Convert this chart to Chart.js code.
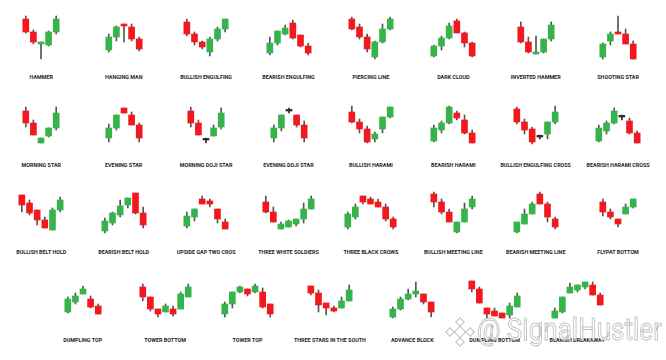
<!DOCTYPE html>
<html>
<head>
<meta charset="utf-8">
<script src="https://cdn.jsdelivr.net/npm/chart.js@4.4.0/dist/chart.umd.min.js"></script>
<style>
  html, body { margin: 0; padding: 0; background: #fff; }
  #board { position: relative; width: 666px; height: 360px; overflow: hidden; background: #fff; }
  #board canvas { position: absolute; }
  .label {
    position: absolute; width: 100px; text-align: center; white-space: nowrap;
    font-family: Roboto, "Noto Sans", sans-serif; font-weight: 700; font-size: 5.4px;
    line-height: 6px; color: #1e1e1e;
  }
  .watermark {
    position: absolute; left: 477px; top: 311px; white-space: nowrap;
    font-family: Roboto, "Noto Sans", sans-serif; font-size: 31px;
    transform: scaleX(0.84); transform-origin: left top;
    color: rgba(255, 255, 255, 0.82); -webkit-text-stroke: 1px rgba(140, 140, 140, 0.55);
  }
  .wm-logo { position: absolute; left: 445px; top: 317px; }
</style>
</head>
<body>
<div id="board">
  <svg class="wm-logo" width="30" height="30" viewBox="0 0 30 30">
    <g fill="rgba(255,255,255,0.82)" stroke="rgba(140,140,140,0.55)" stroke-width="1">
      <rect x="11" y="11" width="8" height="8" transform="rotate(45 15 15)"/>
      <rect x="12" y="2" width="6" height="6" transform="rotate(45 15 5)"/>
      <rect x="12" y="22" width="6" height="6" transform="rotate(45 15 25)"/>
      <rect x="2" y="12" width="6" height="6" transform="rotate(45 5 15)"/>
      <rect x="22" y="12" width="6" height="6" transform="rotate(45 25 15)"/>
    </g>
  </svg>
  <div class="watermark">@ SignalHustler</div>
</div>

<script>
// pattern names, in reading order (8 per row, last row has 7)
const patternNames = [
  'HAMMER', 'HANGING MAN', 'BULLISH ENGULFING', 'BEARISH ENGULFING',
  'PIERCING LINE', 'DARK CLOUD', 'INVERTED HAMMER', 'SHOOTING STAR',
  'MORNING STAR', 'EVENING STAR', 'MORNING DOJI STAR', 'EVENING DOJI STAR',
  'BULLISH HARAMI', 'BEARISH HARAMI', 'BULLISH ENGULFING CROSS', 'BEARISH HARAMI CROSS',
  'BULLISH BELT HOLD', 'BEARISH BELT HOLD', 'UPSIDE GAP TWO CROS', 'THREE WHITE SOLDIERS',
  'THREE BLACK CROWS', 'BULLISH MEETING LINE', 'BEARISH MEETING LINE', 'FLYPAT BOTTOM',
  'DUMPLING TOP', 'TOWER BOTTOM', 'TOWER TOP', 'THREE STARS IN THE SOUTH',
  'ADVANCE BLOCK', 'DUMPLING BOTTOM', 'BEARISH BREAKAWAY'
];

// candles: [open, high, low, close]
const hammer = [[46,49,32,33],[33,35,21,23],[21,23,6,23],[20,34,19,33],[33,49,31,46]];
const hangingMan = [[15,31,13,28],[28,39,24,38],[41,41,23,39],[38,41,24,26],[26,28,14,16]];
const bullishEngulfing = [[43,46,29,31],[31,33,20,23],[23,24,16,18],[13,28,9,26],[26,38,24,36],[36,46,33,46]];
const bearishEngulfing = [[12,28,10,22],[22,34,20,34],[31,40,30,37],[42,45,26,27],[30,30,18,19],[19,22,10,12]];
const piercingLine = [[46,48,35,36],[38,41,26,28],[28,31,13,16],[8,24,6,23],[23,41,22,36],[36,48,35,46]];
const darkCloud = [[9,20,8,19],[19,29,15,27],[27,42,26,39],[44,46,32,32],[32,33,18,22],[22,23,8,9]];
const invertedHammer = [[38,43,22,23],[23,28,12,13],[11,29,11,13],[13,26,12,26],[26,43,24,40]];
const shootingStar = [[8,22,6,21],[24,33,20,31],[33,49,31,31],[31,36,21,21],[21,24,6,6]];

const morningStar = [[44,48,28,32],[32,35,20,20],[12,17,12,17],[19,27,18,27],[27,48,25,42]];
const eveningStar = [[17,31,13,27],[27,40,25,40],[47,47,42,42],[40,43,30,30],[30,32,13,17]];
const morningDojiStar = [[44,48,28,32],[32,35,20,20],[15,17,12,15],[19,30,19,27],[28,47,26,42]];
const eveningDojiStar = [[17,30,13,27],[27,40,24,40],[44,47,42,44],[40,40,28,30],[30,34,13,17]];
const bullishHarami = [[43,49,32,33],[33,36,22,26],[26,29,12,13],[16,23,13,21],[26,38,22,38],[38,48,37,48]];
const bearishHarami = [[14,30,13,27],[25,34,22,32],[32,49,31,48],[42,44,35,37],[35,40,21,22],[22,25,12,12]];
const bullishEngulfingCross = [[46,48,31,33],[33,36,21,25],[26,28,11,13],[18,20,16,18],[21,33,16,33],[33,49,31,43]];
const bearishHaramiCross = [[14,30,13,27],[24,34,21,32],[32,47,31,44],[38,40,35,38],[34,37,21,22],[22,24,12,12]];

const bullishBeltHold = [[50,50,33,40],[42,45,30,32],[35,35,20,25],[25,28,17,17],[15,37,15,35],[35,48,33,45]];
const bearishBeltHold = [[14,27,12,24],[22,33,20,32],[30,45,28,39],[40,47,37,47],[52,52,31,32],[32,38,17,20]];
const upsideGapTwoCrows = [[19,33,17,29],[28,36,24,36],[46,49,41,41],[44,46,38,41],[36,36,22,26],[23,26,16,16]];
const threeWhiteSoldiers = [[43,49,32,33],[33,38,23,23],[16,23,16,21],[18,25,18,24],[21,26,19,26],[26,42,22,36],[36,49,36,46]];
const threeBlackCrows = [[18,33,16,31],[28,41,26,38],[49,49,41,43],[46,48,41,41],[43,46,38,38],[38,41,24,26],[26,28,16,18]];
const bullishMeetingLine = [[51,53,38,43],[43,46,31,33],[33,36,23,23],[13,23,12,23],[23,42,23,36],[38,49,36,46]];
const bearishMeetingLine = [[13,23,12,23],[21,36,21,31],[31,43,31,41],[51,53,41,41],[41,43,23,28],[26,28,16,18]];
const flypatBottom = [[43,46,29,33],[33,36,26,28],[26,26,18,21],[31,41,31,38],[38,46,37,46]];

const dumplingTop = [[23,38,22,36],[33,42,31,39],[41,49,41,46],[36,39,27,28],[29,31,21,21]];
const towerBottom = [[48,51,34,38],[38,38,24,26],[26,26,18,21],[23,31,23,29],[26,29,19,21],[26,43,26,41],[38,51,38,48]];
const towerTop = [[21,33,18,31],[31,43,27,43],[43,49,42,48],[46,46,39,41],[43,51,42,49],[43,47,27,28],[31,31,18,21]];
const threeStarsInTheSouth = [[49,49,40,42],[42,45,23,30],[32,32,20,27],[27,29,23,24],[27,38,27,34],[34,50,34,45]];
const advanceBlock = [[18,28,17,26],[26,38,25,36],[36,46,35,41],[41,53,38,44],[41,41,31,33],[33,33,18,23]];
const dumplingBottom = [[54,54,43,46],[46,48,32,32],[27,27,17,21],[24,27,19,19],[22,22,17,17],[20,32,17,29],[28,42,28,39]];
const bearishBreakaway = [[17,27,17,24],[23,38,22,38],[42,52,42,48],[45,50,43,50],[48,53,46,53],[50,53,40,40],[40,42,30,30]];

const patterns = [
  hammer, hangingMan, bullishEngulfing, bearishEngulfing, piercingLine, darkCloud, invertedHammer, shootingStar,
  morningStar, eveningStar, morningDojiStar, eveningDojiStar, bullishHarami, bearishHarami, bullishEngulfingCross, bearishHaramiCross,
  bullishBeltHold, bearishBeltHold, upsideGapTwoCrows, threeWhiteSoldiers, threeBlackCrows, bullishMeetingLine, bearishMeetingLine, flypatBottom,
  dumplingTop, towerBottom, towerTop, threeStarsInTheSouth, advanceBlock, dumplingBottom, bearishBreakaway
];

// colours
const GREEN = '#36b44b';
const RED = '#f3181d';
const DOJI = '#2a2a2a';
const WICK = '#555555';

// layout
const rowTop = [5, 95, 185, 275];      // top of each candle strip
const labelTop = [74, 162, 249, 337];  // label line
const COL_STEP = 82.4;
const CANDLE_STEP = 7.6;
const board = document.getElementById('board');

function bodyColor(c) {
  if (c[0] === c[3]) return DOJI;
  return c[3] > c[0] ? GREEN : RED;
}

patterns.forEach((candles, idx) => {
  const row = Math.floor(idx / 8);
  const col = idx % 8;
  const cx = (row < 3 ? 41.3 : 82.7) + col * COL_STEP;

  const w = Math.round(candles.length * CANDLE_STEP);
  const canvas = document.createElement('canvas');
  canvas.width = w;
  canvas.height = 60;
  canvas.style.left = (cx - w / 2) + 'px';
  canvas.style.top = rowTop[row] + 'px';
  board.appendChild(canvas);

  new Chart(canvas, {
    type: 'bar',
    data: {
      labels: candles.map((c, i) => i + 1),
      datasets: [
        {
          // bodies (drawn on top)
          data: candles.map(c => [c[0], c[3]]),
          backgroundColor: candles.map(bodyColor),
          barThickness: 6,
          minBarLength: 1.6,
          grouped: false,
          borderWidth: 0
        },
        {
          // wicks
          data: candles.map(c => [c[2], c[1]]),
          backgroundColor: candles.map(c => c[0] === c[3] ? DOJI : WICK),
          barThickness: 1,
          grouped: false,
          borderWidth: 0
        }
      ]
    },
    options: {
      responsive: false,
      animation: false,
      devicePixelRatio: 1,
      layout: { padding: 0 },
      plugins: { legend: { display: false }, tooltip: { enabled: false } },
      scales: {
        x: { display: false, offset: true },
        y: { display: false, min: 0, max: 60 }
      }
    }
  });

  const label = document.createElement('div');
  label.className = 'label';
  label.textContent = patternNames[idx];
  label.style.left = (cx - 50) + 'px';
  label.style.top = labelTop[row] + 'px';
  board.appendChild(label);
});

// keep the watermark above the charts
board.appendChild(document.querySelector('.wm-logo'));
board.appendChild(document.querySelector('.watermark'));
</script>
</body>
</html>
